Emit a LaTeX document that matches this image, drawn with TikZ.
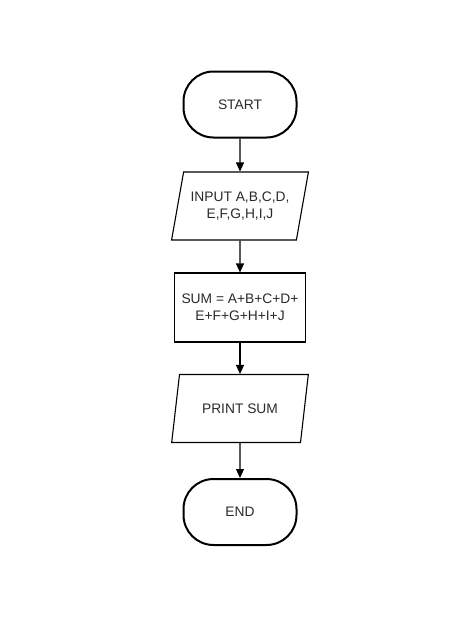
\documentclass[tikz,border=0pt]{standalone}
\usepackage{fontspec}
\setmainfont{Liberation Sans}
\usetikzlibrary{arrows.meta,shapes.geometric}
\definecolor{labelgray}{HTML}{2A2A2A}

\begin{document}
\begin{tikzpicture}[x=1pt,y=-1pt,
    every node/.style={font=\fontsize{13.8}{16.6}\selectfont, text=labelgray, align=center},
    terminal/.style={draw, line width=2pt, rounded corners=30pt, minimum width=113pt, minimum height=66pt},
    io/.style={draw, line width=1.1pt, trapezium, trapezium left angle=72, trapezium right angle=108,
      trapezium stretches=true, minimum width=137pt, minimum height=68pt},
    process/.style={draw, line width=1.1pt, minimum width=131pt, minimum height=69pt},
    flow/.style={-{Triangle[length=9pt,width=8pt]}, line width=1.1pt}]
      \useasboundingbox (0,0) rectangle (474,632);

      \node[terminal] (start) at (240,104.5) {START};
      \node[io]       (input) at (240,206)   {INPUT A,B,C,D,\\E,F,G,H,I,J};
      \node[process]  (sum)   at (240,307.5) {SUM = A+B+C+D+\\E+F+G+H+I+J};
      \node[io]       (print) at (240,408.5) {PRINT SUM};
      \node[terminal] (end)   at (240,512)   {END};

      \draw[flow] (start) -- (input);
      \draw[flow] (input) -- (sum);
      \draw[flow] (sum) -- (print);
      \draw[flow] (print) -- (end);
    \end{tikzpicture}
\end{document}
